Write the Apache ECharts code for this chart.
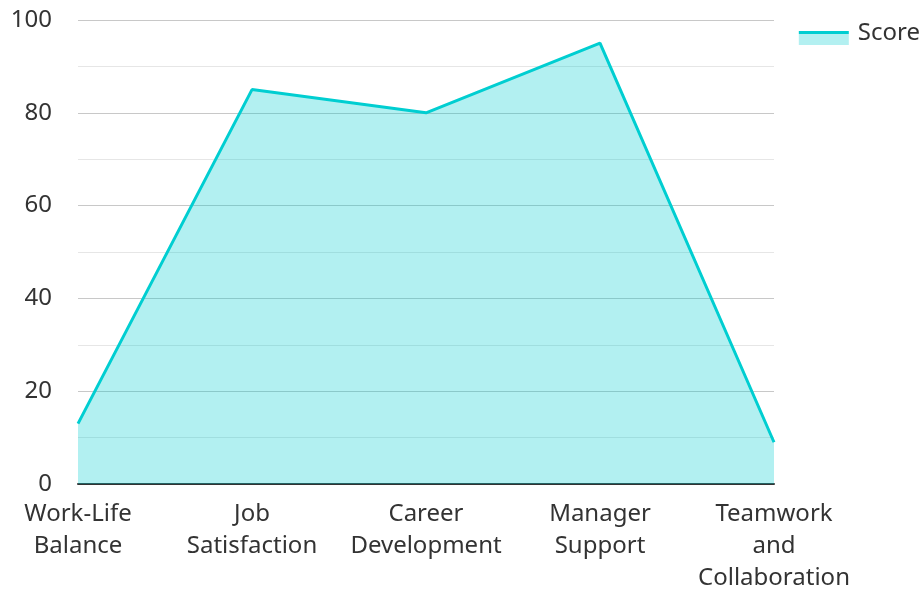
<!DOCTYPE html>
<html>
<head>
<meta charset="utf-8">
<script src="https://cdn.jsdelivr.net/npm/echarts@6/dist/echarts.min.js"></script>
<style>
  html, body { margin: 0; padding: 0; background: #fff; }
  #chart { width: 923px; height: 589px; }
</style>
</head>
<body>
<div id="chart"></div>
<script>
// survey categories and scores
const categories = ['Work-Life Balance', 'Job Satisfaction', 'Career Development', 'Manager Support', 'Teamwork and Collaboration']
const scores = [13, 85, 80, 95, 9]
const seriesName = 'Score'

const lineColor = '#00CED1'
const areaColor = '#b3f0f1'

const chart = echarts.init(document.getElementById('chart'))
chart.setOption({
  animation: false,
  textStyle: { fontFamily: 'Noto Sans' },
  grid: {
    left: 78,
    right: 149,
    top: 20,
    bottom: 105,
    outerBoundsMode: 'none'
  },
  legend: {
    data: [seriesName],
    right: 3,
    top: 21,
    padding: 0,
    itemWidth: 50,
    itemHeight: 24,
    icon: 'rect',
    itemStyle: {
      color: {
        type: 'linear', x: 0, y: 0, x2: 0, y2: 1,
        colorStops: [
          { offset: 0, color: 'rgba(255,255,255,0)' },
          { offset: 0.425, color: 'rgba(255,255,255,0)' },
          { offset: 0.425, color: lineColor },
          { offset: 0.5625, color: lineColor },
          { offset: 0.5625, color: areaColor },
          { offset: 1, color: areaColor }
        ]
      }
    },
    textStyle: {
      fontSize: 24,
      color: '#333',
      padding: [0, 0, 0, 4]
    }
  },
  xAxis: {
    type: 'category',
    data: categories,
    boundaryGap: false,
    axisTick: { show: false },
    axisLine: {
      lineStyle: { color: '#333', width: 2 }
    },
    axisLabel: {
      interval: 0,
      fontSize: 24,
      color: '#333',
      lineHeight: 32,
      margin: 14,
      formatter: function(v) {
        return v.split(' ').join('\n')
      }
    }
  },
  yAxis: {
    type: 'value',
    min: 0,
    max: 100,
    interval: 20,
    axisLine: { show: false },
    axisTick: { show: false },
    axisLabel: {
      fontSize: 24,
      color: '#333',
      margin: 26
    },
    splitLine: {
      lineStyle: { color: '#c8c8c8', width: 1 }
    },
    minorTick: { show: false, splitNumber: 2 },
    minorSplitLine: {
      show: true,
      lineStyle: { color: '#e6e6e6', width: 1 }
    }
  },
  series: [{
    name: seriesName,
    type: 'line',
    data: scores,
    symbol: 'none',
    lineStyle: { color: lineColor, width: 3 },
    itemStyle: { color: lineColor },
    areaStyle: { color: lineColor, opacity: 0.3 }
  }]
})
</script>
</body>
</html>
